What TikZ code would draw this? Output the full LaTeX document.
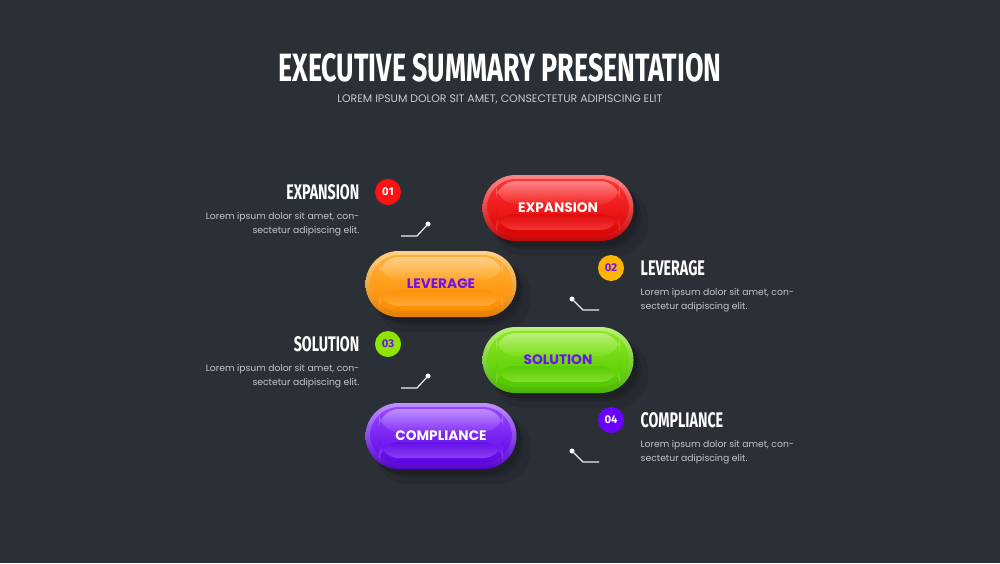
\documentclass[tikz,border=0pt]{standalone}
\usepackage{fontspec}
\setmainfont{Poppins}
\newfontfamily\headfont{Fira Sans}
\usepackage{graphicx}
\usetikzlibrary{positioning,calc}

\definecolor{bgdark}{HTML}{2B2F36}
\definecolor{subgray}{HTML}{C9CBCF}
\definecolor{descgray}{HTML}{C4C6CA}
\definecolor{labelpurple}{HTML}{6A12F5}
\definecolor{redA}{HTML}{FF3434}
\definecolor{redB}{HTML}{DC0404}
\definecolor{orangeA}{HTML}{FFB13A}
\definecolor{orangeB}{HTML}{FF8C00}
\definecolor{greenA}{HTML}{8DE823}
\definecolor{greenB}{HTML}{52C800}
\definecolor{purpleA}{HTML}{9646FF}
\definecolor{purpleB}{HTML}{5E04E4}
\definecolor{dotred}{HTML}{FF1212}
\definecolor{dotyellow}{HTML}{FFB500}
\definecolor{dotgreen}{HTML}{8CE400}
\definecolor{dotpurple}{HTML}{6A00FF}

\newcommand\headtext[1]{\resizebox{!}{0.15cm}{\scalebox{0.675}[1]{\headfont\bfseries #1}}}

\begin{document}
\begin{tikzpicture}[x=0.01cm,y=-0.01cm,
    heading/.style={text=white,inner sep=0pt},
    desc/.style={text=descgray,inner sep=0pt,font=\fontsize{2.63}{3.95}\selectfont},
    numdot/.style={circle,minimum size=0.26cm,inner sep=0pt,
        font=\headfont\bfseries\fontsize{3.2}{3.2}\selectfont},
    pilltext/.style={inner sep=0pt,font=\bfseries\fontsize{3.9}{4}\selectfont},
    wire/.style={draw=white!85!gray,line width=0.35pt},
    pin/.style={circle,fill=white,minimum size=0.05cm,inner sep=0pt}]
    % background
    \fill[bgdark] (0,0) rectangle (1000,563);
    \useasboundingbox (0,0) rectangle (1000,563);

    % title
    \node[text=white,inner sep=0pt] (title) at (500,67.5)
        {\resizebox{4.43cm}{0.28cm}{\headfont\bfseries EXECUTIVE SUMMARY PRESENTATION}};
    \node[text=subgray,inner sep=0pt] (subtitle) at (500,99.5)
        {\resizebox{3.25cm}{!}{LOREM IPSUM DOLOR SIT AMET, CONSECTETUR ADIPISCING ELIT}};

    % glossy pills
    \foreach \i/\cx/\cy/\ca/\cb/\txt/\tcol in {
        1/558/208/redA/redB/EXPANSION/white,
        2/441/284/orangeA/orangeB/LEVERAGE/labelpurple,
        3/558/360/greenA/greenB/SOLUTION/labelpurple,
        4/441/436/purpleA/purpleB/COMPLIANCE/white} {
        % soft shadow
        \fill[black,opacity=0.09,rounded corners=0.33cm] (\cx-66,\cy-22) rectangle ++(156,70);
        \fill[black,opacity=0.11,rounded corners=0.33cm] (\cx-68,\cy-25) rectangle ++(151,66);
        \fill[black,opacity=0.13,rounded corners=0.33cm] (\cx-71,\cy-28) rectangle ++(151,66);
        % rim and body
        \shade[top color=\ca!60!white,bottom color=\cb!90!black,rounded corners=0.33cm]
            (\cx-75.5,\cy-33) rectangle (\cx+75.5,\cy+33);
        \shade[top color=\ca,bottom color=\cb,rounded corners=0.29cm]
            (\cx-71,\cy-29) rectangle (\cx+71,\cy+27);
        \shade[top color=\cb,bottom color=\ca!85!white,rounded corners=0.2cm,opacity=0.6]
            (\cx-62,\cy+6) rectangle (\cx+62,\cy+22);
        % top highlight
        \shade[top color=white,bottom color=\ca,opacity=0.4,rounded corners=0.2cm]
            (\cx-62,\cy-27) rectangle (\cx+62,\cy-4);
        \node[pilltext,text=\tcol] (pill-\i) at (\cx,\cy) {\txt};
    }

    % 01 Expansion
    \node[numdot,fill=dotred,text=white] (num1) at (388,192) {01};
    \node[heading,anchor=east] (head1) at (360,192.5) {\headtext{EXPANSION}};
    \node[desc,align=right,anchor=north east] (desc1) at (360,212)
        {Lorem ipsum dolor sit amet, con-\\sectetur adipiscing elit.};
    \coordinate (w1a) at (401,236);
    \coordinate (w1b) at (417,236);
    \node[pin] (w1c) at (428,224) {};
    \draw[wire] (w1a) -- (w1b) -- (w1c.center);

    % 02 Leverage
    \node[numdot,fill=dotyellow,text=labelpurple] (num2) at (611,268) {02};
    \node[heading,anchor=west] (head2) at (640,268.5) {\headtext{LEVERAGE}};
    \node[desc,align=left,anchor=north west] (desc2) at (640,288)
        {Lorem ipsum dolor sit amet, con-\\sectetur adipiscing elit.};
    \node[pin] (w2a) at (572,299) {};
    \coordinate (w2b) at (583,310);
    \coordinate (w2c) at (599,310);
    \draw[wire] (w2a.center) -- (w2b) -- (w2c);

    % 03 Solution
    \node[numdot,fill=dotgreen,text=labelpurple] (num3) at (388,344) {03};
    \node[heading,anchor=east] (head3) at (360,344.5) {\headtext{SOLUTION}};
    \node[desc,align=right,anchor=north east] (desc3) at (360,364)
        {Lorem ipsum dolor sit amet, con-\\sectetur adipiscing elit.};
    \coordinate (w3a) at (401,388);
    \coordinate (w3b) at (417,388);
    \node[pin] (w3c) at (428,376) {};
    \draw[wire] (w3a) -- (w3b) -- (w3c.center);

    % 04 Compliance
    \node[numdot,fill=dotpurple,text=white] (num4) at (611,420) {04};
    \node[heading,anchor=west] (head4) at (640,420.5) {\headtext{COMPLIANCE}};
    \node[desc,align=left,anchor=north west] (desc4) at (640,440)
        {Lorem ipsum dolor sit amet, con-\\sectetur adipiscing elit.};
    \node[pin] (w4a) at (572,451) {};
    \coordinate (w4b) at (583,462);
    \coordinate (w4c) at (599,462);
    \draw[wire] (w4a.center) -- (w4b) -- (w4c);
\end{tikzpicture}
\end{document}
